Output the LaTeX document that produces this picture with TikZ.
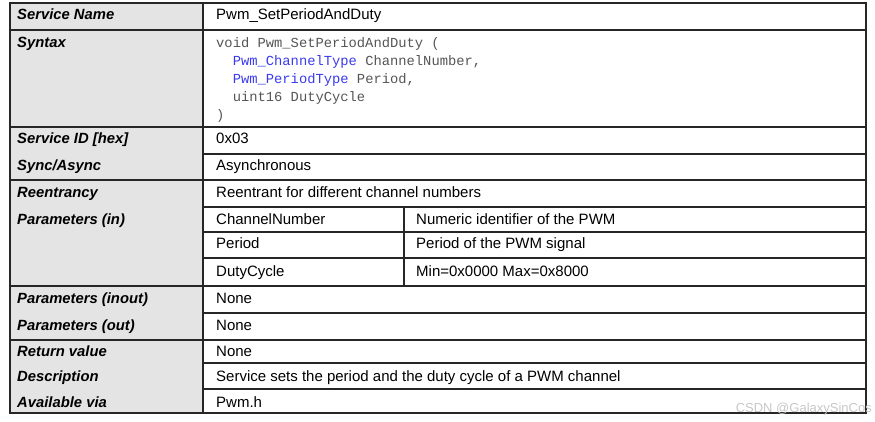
\documentclass[tikz,border=0pt]{standalone}
\usepackage{fontspec}
\setmainfont{Liberation Sans}
\setmonofont{Liberation Mono}
\definecolor{hdr}{HTML}{E4E4E4}
\definecolor{code}{HTML}{555555}
\definecolor{kw}{HTML}{3A3AEE}
\begin{document}
\begin{tikzpicture}[x=1pt,y=-1pt,
  lab/.style={anchor=base west,inner sep=0pt,font=\fontsize{14.8}{16}\selectfont\bfseries\itshape},
  val/.style={anchor=base west,inner sep=0pt,font=\fontsize{15}{16}\selectfont},
  cd/.style={anchor=base west,inner sep=0pt,font=\fontsize{13.8}{16}\selectfont\ttfamily,text=code},
  grid/.style={line width=1.2pt,draw=black!85}]
\useasboundingbox (0,0) rectangle (875,422);
\fill[hdr] (10,3) rectangle (203,413);
\draw[grid] (10,3) rectangle (866,413);
\draw[grid] (203,3) -- (203,413);
\draw[grid] (404,207) -- (404,287);
\foreach \y in {30,127,180,286,340} \draw[grid] (10,\y) -- (866,\y);
\foreach \y in {154,207,232,258,313,363,389} \draw[grid] (203,\y) -- (866,\y);
\node[lab] (l1) at (17,20) {Service Name};
\node[lab] (l2) at (17,48) {Syntax};
\node[lab] (l3) at (17,144) {Service ID [hex]};
\node[lab] (l4) at (17,171) {Sync/Async};
\node[lab] (l5) at (17,197) {Reentrancy};
\node[lab] (l6) at (17,224) {Parameters (in)};
\node[lab] (l7) at (17,303) {Parameters (inout)};
\node[lab] (l8) at (17,330) {Parameters (out)};
\node[lab] (l9) at (17,356) {Return value};
\node[lab] (l10) at (17,381) {Description};
\node[lab] (l11) at (17,407) {Available via};
\node[val] (v1) at (216,20) {Pwm\_SetPeriodAndDuty};
\node[cd] (c1) at (216,48) {void Pwm\_SetPeriodAndDuty (};
\node[cd] (c2) at (216,66) {\hspace*{1.2em}\textcolor{kw}{Pwm\_ChannelType} ChannelNumber,};
\node[cd] (c3) at (216,84) {\hspace*{1.2em}\textcolor{kw}{Pwm\_PeriodType} Period,};
\node[cd] (c4) at (216,102) {\hspace*{1.2em}uint16 DutyCycle};
\node[cd] (c5) at (216,120) {)};
\node[val] (v3) at (216,144) {0x03};
\node[val] (v4) at (216,171) {Asynchronous};
\node[val] (v5) at (216,197) {Reentrant for different channel numbers};
\node[val] (p1) at (216,224) {ChannelNumber};
\node[val] (p2) at (216,248) {Period};
\node[val] (p3) at (216,276) {DutyCycle};
\node[val] (d1) at (416,224) {Numeric identifier of the PWM};
\node[val] (d2) at (416,248) {Period of the PWM signal};
\node[val] (d3) at (416,276) {Min=0x0000 Max=0x8000};
\node[val] (v7) at (216,303) {None};
\node[val] (v8) at (216,330) {None};
\node[val] (v9) at (216,356) {None};
\node[val] (v10) at (216,381) {Service sets the period and the duty cycle of a PWM channel};
\node[val] (v11) at (216,407) {Pwm.h};
\node[anchor=base east,inner sep=0pt,font=\fontsize{13}{14}\selectfont,text=black!22] (wm) at (872,412) {CSDN @GalaxySinCos};
\end{tikzpicture}
\end{document}
